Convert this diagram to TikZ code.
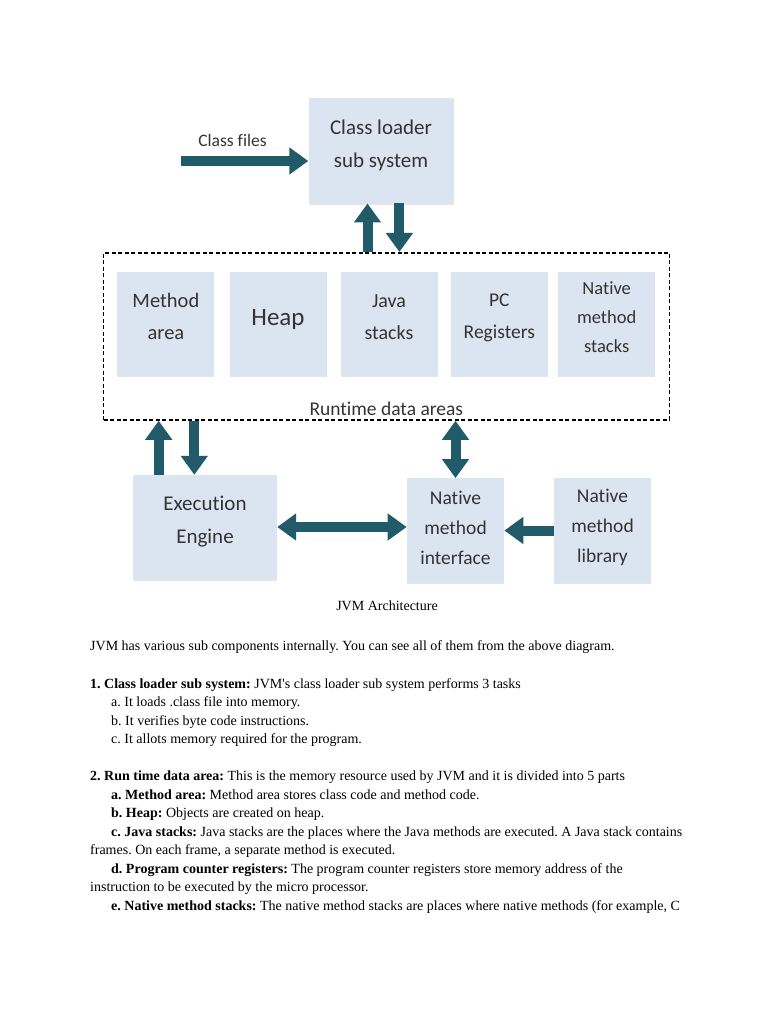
\documentclass[tikz,border=0pt]{standalone}
\usepackage{fontspec}
\setmainfont{Liberation Serif}
\newfontfamily\boxfont[Ligatures=CommonOff]{Carlito}
\usetikzlibrary{arrows.meta,shadows}
\definecolor{boxblue}{HTML}{DBE5F1}
\definecolor{arrteal}{HTML}{215A69}
\frenchspacing
\begin{document}
\begin{tikzpicture}[x=1pt,y=-1pt,>={Triangle[width=26pt,length=19pt]},
  box/.style={fill=boxblue,inner sep=0pt,
    drop shadow={shadow xshift=0pt,shadow yshift=-1.5pt,opacity=.2}},
  lbl/.style={align=center,text=black!80,inner sep=0pt},
  blk/.style={draw=arrteal,line width=10pt,->},
  txt/.style={anchor=base west,inner sep=0pt,font=\fontsize{14}{16}\selectfont}]
\useasboundingbox[fill=white] (0,0) rectangle (768,1024);
%Class loader
\node[box,minimum width=145pt,minimum height=105pt,
  label={[lbl,yshift=5pt,font=\boxfont\fontsize{21}{33}\selectfont]center:Class loader\\sub system}] (cls) at (381,150.8) {};
\node[text=black!80,font=\boxfont\fontsize{17.5}{20}\selectfont] (cfl) at (232.5,140) {Class files};
\coordinate (cf) at (180.5,161);
\draw[blk] (cf) -- (cf -| cls.west);
%Runtime data areas
\node[draw,dash pattern=on 4pt off 2.5pt,line width=1.5pt,minimum width=565.8pt,minimum height=167.3pt] (rda) at (386.6,336.4) {};
\node[text=black!80,font=\boxfont\fontsize{19.5}{22}\selectfont] (rdl) at (386.3,408.3) {Runtime data areas};
\node[box,minimum width=97pt,minimum height=104pt,
  label={[lbl,yshift=7pt,font=\boxfont\fontsize{20.5}{32}\selectfont]center:Method\\area}] (ma) at (165.9,323.7) {};
\node[box,minimum width=97pt,minimum height=104pt,
  label={[lbl,yshift=4pt,font=\boxfont\fontsize{25}{30}\selectfont]center:Heap}] (hp) at (278,323.7) {};
\node[box,minimum width=97pt,minimum height=104pt,
  label={[lbl,yshift=7pt,font=\boxfont\fontsize{20}{32}\selectfont]center:Java\\stacks}] (js) at (389,323.7) {};
\node[box,minimum width=97pt,minimum height=104pt,
  label={[lbl,yshift=6pt,font=\boxfont\fontsize{19.5}{32}\selectfont]center:PC\\Registers}] (pc) at (499.3,323.7) {};
\node[box,minimum width=97pt,minimum height=104pt,
  label={[lbl,yshift=6pt,font=\boxfont\fontsize{18.5}{29}\selectfont]center:Native\\method\\stacks}] (nms) at (606.7,323.7) {};
%Mui ten len xuong
\coordinate (up1) at (367.5,0);
\coordinate (dn1) at (399.4,0);
\draw[blk] (rda.north -| up1) -- (cls.south -| up1);
\draw[blk] (cls.south -| dn1) -- (rda.north -| dn1);
%Execution engine, native method
\node[box,minimum width=144pt,minimum height=104pt,
  label={[lbl,yshift=5pt,font=\boxfont\fontsize{21}{33}\selectfont]center:Execution\\Engine}] (exe) at (205,527) {};
\node[box,minimum width=97.3pt,minimum height=104.4pt,
  label={[lbl,yshift=3pt,font=\boxfont\fontsize{19.5}{30}\selectfont]center:Native\\method\\interface}] (nmi) at (455.5,530.5) {};
\node[box,minimum width=97.3pt,minimum height=104.4pt,
  label={[lbl,yshift=3pt,font=\boxfont\fontsize{19.5}{30}\selectfont]center:Native\\method\\library}] (nml) at (602.5,530.5) {};
\coordinate (up2) at (158.7,0);
\coordinate (dn2) at (194.3,0);
\draw[blk] (exe.north -| up2) -- (rda.south -| up2);
\draw[blk] (rda.south -| dn2) -- (exe.north -| dn2);
\draw[blk,<->] (rda.south -| nmi.north) -- (nmi.north);
\draw[blk,<->] (exe.east) -- (exe.east -| nmi.west);
\draw[blk] (nml.west) -- (nmi.east);
%Chu thich
\node[inner sep=0pt,font=\fontsize{14}{16}\selectfont] (cap) at (387,606) {JVM Architecture};
%Van ban
\node[txt] (t0) at (90,650) {JVM has various sub components internally. You can see all of them from the above diagram.};
\node[txt] (t1) at (90,688) {\textbf{1. Class loader sub system:} JVM\textquotesingle s class loader sub system performs 3 tasks};
\node[txt] (t2) at (111,706.5) {a. It loads .class file into memory.};
\node[txt] (t3) at (111,725) {b. It verifies byte code instructions.};
\node[txt] (t4) at (111,743.5) {c. It allots memory required for the program.};
\node[txt] (t5) at (90,780.5) {\textbf{2. Run time data area:} This is the memory resource used by JVM and it is divided into 5 parts};
\node[txt] (t6) at (111,799) {\textbf{a. Method area:} Method area stores class code and method code.};
\node[txt] (t7) at (111,817.5) {\textbf{b. Heap:} Objects are created on heap.};
\node[txt] (t8) at (111,836) {\textbf{c. Java stacks:} Java stacks are the places where the Java methods are executed. A Java stack contains};
\node[txt] (t9) at (90,854.5) {frames. On each frame, a separate method is executed.};
\node[txt] (t10) at (111,873) {\textbf{d. Program counter registers:} The program counter registers store memory address of the};
\node[txt] (t11) at (90,891.5) {instruction to be executed by the micro processor.};
\node[txt] (t12) at (111,910) {\textbf{e. Native method stacks:} The native method stacks are places where native methods (for example, C};
\end{tikzpicture}
\end{document}
